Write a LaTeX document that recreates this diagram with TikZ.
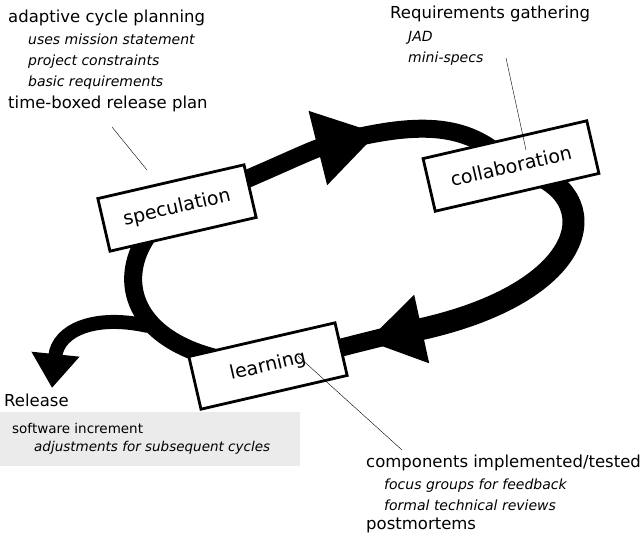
\documentclass[tikz,border=0pt]{standalone}
\usepackage{fontspec}
\setmainfont{DejaVu Sans}
\usetikzlibrary{arrows.meta}
\tikzstyle{phase} = [rectangle, draw=black, fill=white, line width=2.8pt, rotate=13, minimum width=150pt, minimum height=54pt, font=\fontsize{19}{22}\selectfont]
\tikzstyle{flow} = [line width=18pt]
\tikzstyle{note} = [anchor=west, inner sep=0pt, align=left, font=\fontsize{16.5}{21}\selectfont]
\tikzstyle{sub} = [font=\fontsize{14}{21}\selectfont\itshape]
\tikzstyle{leader} = [thin]

\begin{document}
\begin{tikzpicture}[x=1pt, y=-1pt]
\useasboundingbox (0,0) rectangle (640,536);

%Cycle==============================================
\coordinate (tip1) at (378,133);
\coordinate (tip2) at (367,341);
\coordinate (rel) at (148,326);
\coordinate (tip3) at (52,388);
\coordinate (top) at (345,140);
\coordinate (low) at (395,334);
\draw [flow, -{Triangle[length=62pt,width=72pt]}] (177,208) .. controls (260,175) and (310,150) .. (tip1);
\draw [flow] (top) .. controls (420,122) and (470,122) .. (511,166);
\draw [flow, line width=22pt, -{Triangle[length=56pt,width=66pt]}] (511,166) .. controls (610,185) and (600,290) .. (tip2);
\draw [flow] (low) -- (268,366);
\draw [flow] (268,366) .. controls (105,355) and (110,250) .. (177,208);
\draw [line width=14pt, -{Triangle[length=34pt,width=46pt]}] (rel) .. controls (95,314) and (58,330) .. (tip3);

%Phases==============================================
\node (spec) [phase] at (177,208) {speculation};
\node (collab) [phase, minimum width=168pt] at (511,166) {collaboration};
\node (learn) [phase] at (268,366) {learning};

%Notes==============================================
\node (plan) [note] at (8,18) {adaptive cycle planning};
\node (plansub) [note, sub] at (28,62) {uses mission statement\\project constraints\\basic requirements};
\node (timebox) [note] at (8,104) {time-boxed release plan};
\coordinate (specpin) at (147,170);
\draw [leader] (112,127) -- (specpin);

\node (req) [note] at (390,14) {Requirements gathering};
\node (reqsub) [note, sub] at (408,48) {JAD\\mini-specs};
\coordinate (collabpin) at (526,150);
\draw [leader] (506,58) -- (collabpin);

\node (release) [note] at (4,400) {Release};
\node (relbox) [fill=black!8, minimum width=300pt, minimum height=54pt, anchor=north west, inner sep=0pt] at (0,412) {};
\node (relsub) [note, font=\fontsize{13.5}{20}\selectfont] at (12,428) {software increment};
\node (relsub2) [note, sub, font=\fontsize{13.5}{20}\selectfont\itshape] at (34,448) {adjustments for subsequent cycles};

\node (comp) [note] at (366,463) {components implemented/tested};
\node (compsub) [note, sub] at (384,495) {focus groups for feedback\\formal technical reviews};
\node (post) [note] at (366,525) {postmortems};
\coordinate (learnpin) at (298,356);
\draw [leader] (learnpin) -- (402,450);
\end{tikzpicture}
\end{document}
